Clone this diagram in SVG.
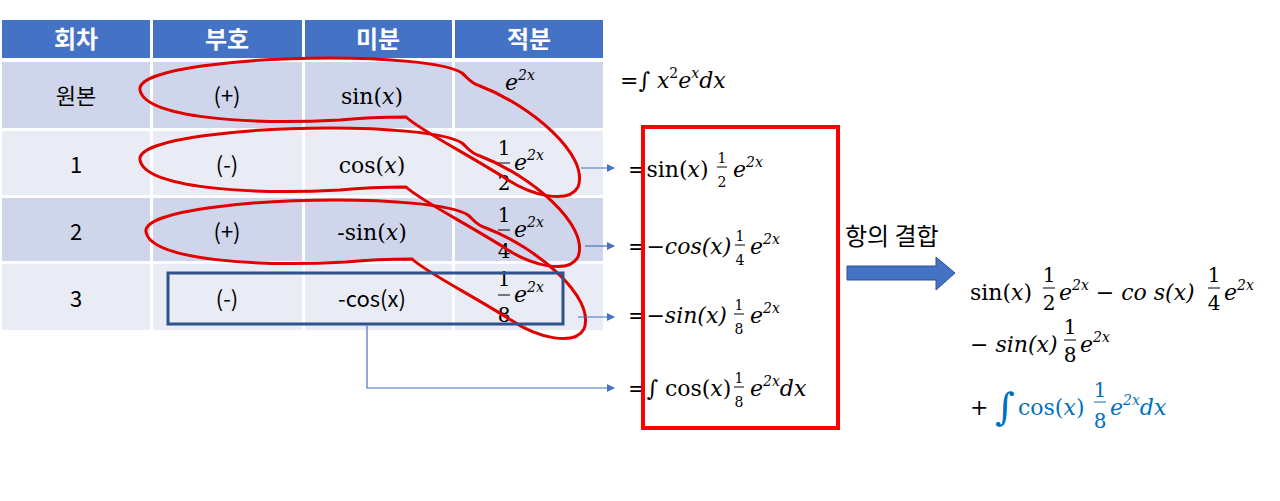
<svg xmlns="http://www.w3.org/2000/svg" width="1280" height="501" viewBox="0 0 1280 501">
<style>
.h{fill:#fff;font:bold 24px "Noto Sans CJK KR","Noto Sans",sans-serif;text-anchor:middle}
.c{fill:#000;font:22px "Noto Sans CJK KR","Noto Sans",sans-serif;text-anchor:middle}
.m{font-family:"DejaVu Serif","Liberation Serif",serif;font-size:22px;fill:#000}
.i{font-style:italic}
.s{font-size:14px}
.f{font-size:14px;text-anchor:middle}
.rf{font-size:20px;text-anchor:middle}
.bl{fill:#0070C0}
.red{fill:none;stroke:#E00000;stroke-width:3}
.ar{stroke:#4472C4;stroke-width:1.2;fill:none;marker-end:url(#a)}
</style>
<defs><marker id="a" markerWidth="8" markerHeight="8" refX="7" refY="4" orient="auto" markerUnits="userSpaceOnUse"><path d="M0,0L8,4L0,8z" fill="#4472C4"/></marker></defs>
<rect width="1280" height="501" fill="#fff"/>
<g id="table">
<rect x="2" y="20" width="148" height="38" fill="#4472C4"/><rect x="153" y="20" width="149" height="38" fill="#4472C4"/><rect x="305" y="20" width="147" height="38" fill="#4472C4"/><rect x="455" y="20" width="148" height="38" fill="#4472C4"/>
<text class="h" x="76" y="48">회차</text><text class="h" x="227" y="48">부호</text><text class="h" x="378" y="48">미분</text><text class="h" x="529" y="48">적분</text>
<g fill="#CFD5EA"><rect x="2" y="62" width="148" height="66"/><rect x="153" y="62" width="149" height="66"/><rect x="305" y="62" width="147" height="66"/><rect x="455" y="62" width="148" height="66"/>
<rect x="2" y="198" width="148" height="63"/><rect x="153" y="198" width="149" height="63"/><rect x="305" y="198" width="147" height="63"/><rect x="455" y="198" width="148" height="63"/></g>
<g fill="#E9EBF5"><rect x="2" y="131" width="148" height="64"/><rect x="153" y="131" width="149" height="64"/><rect x="305" y="131" width="147" height="64"/><rect x="455" y="131" width="148" height="64"/>
<rect x="2" y="264" width="148" height="66"/><rect x="153" y="264" width="149" height="66"/><rect x="305" y="264" width="147" height="66"/><rect x="455" y="264" width="148" height="66"/></g>
<text class="c" x="76" y="104">원본</text><text class="c" x="76" y="173">1</text><text class="c" x="76" y="240">2</text><text class="c" x="76" y="307">3</text>
<text class="c" x="227" y="104">(+)</text><text class="c" x="227" y="173">(-)</text><text class="c" x="227" y="240">(+)</text><text class="c" x="227" y="307">(-)</text>
<text class="m" x="372" y="104" text-anchor="middle">sin(<tspan class="i">x</tspan>)</text>
<text class="m" x="372" y="173" text-anchor="middle">cos(<tspan class="i">x</tspan>)</text>
<text class="m" x="372" y="240" text-anchor="middle">-sin(<tspan class="i">x</tspan>)</text>
<text class="c" x="372" y="307">-cos(x)</text>
<text class="m i" x="505" y="90">e<tspan class="s" dy="-10">2x</tspan></text>
<g class="m"><text class="rf" x="504" y="155">1</text><text class="rf" x="504" y="190">2</text><line x1="498" y1="163" x2="510" y2="163" stroke="#000"/><text class="i" x="514" y="170">e<tspan class="s" dy="-10">2x</tspan></text>
<text class="rf" x="504" y="222">1</text><text class="rf" x="504" y="258">4</text><line x1="498" y1="230" x2="510" y2="230" stroke="#000"/><text class="i" x="514" y="237">e<tspan class="s" dy="-10">2x</tspan></text>
<text class="rf" x="504" y="286">1</text><text class="rf" x="504" y="322">8</text><line x1="498" y1="295" x2="510" y2="295" stroke="#000"/><text class="i" x="514" y="302">e<tspan class="s" dy="-10">2x</tspan></text></g>
</g>
<g id="ovals">
<path class="red" d="M340,120 C250,125 145,118 140,90 C136,68 250,58 330,58 C380,58 445,62 462,73 C468,78 470,83 480,86 C530,105 590,155 578,187 C568,205 530,195 505,178 C460,150 420,130 406,117 C390,117 360,118 340,120 Z"/>
<path class="red" transform="translate(0,70)" d="M340,120 C250,125 145,118 140,90 C136,68 250,58 330,58 C380,58 445,62 462,73 C468,78 470,83 480,86 C530,105 590,155 578,187 C568,205 530,195 505,178 C460,150 420,130 406,117 C390,117 360,118 340,120 Z"/>
<path class="red" transform="translate(6,142)" d="M340,120 C250,125 145,118 140,90 C136,68 250,58 330,58 C380,58 445,62 462,73 C468,78 470,83 480,86 C530,105 590,155 578,187 C568,205 530,195 505,178 C460,150 420,130 406,117 C390,117 360,118 340,120 Z"/>
<rect x="168" y="273" width="395" height="51" fill="none" stroke="#2F528F" stroke-width="3"/>
</g>
<g id="connectors">
<path class="ar" d="M581,168H614"/><path class="ar" d="M585,246H614"/><path class="ar" d="M578,317H614"/><path class="ar" d="M367,326V388H614"/>
<path d="M847,266H936V257L955,273L936,290V280H847Z" fill="#4472C4" stroke="#2F528F"/>
</g>
<g id="formulas" class="m">
<text x="620" y="88">=∫ <tspan class="i">x</tspan><tspan class="s" dy="-10">2</tspan><tspan class="i" dy="10">e</tspan><tspan class="s i" dy="-10">x</tspan><tspan class="i" dy="10">dx</tspan></text>
<text x="628" y="177">=sin(<tspan class="i">x</tspan>)</text><text class="f" x="722" y="163">1</text><line x1="717" y1="167" x2="727" y2="167" stroke="#000"/><text class="f" x="722" y="187">2</text><text class="i" x="733" y="177">e<tspan class="s" dy="-10">2x</tspan></text>
<text x="628" y="254">=<tspan class="i">−cos(x)</tspan></text><text class="f" x="740" y="241">1</text><line x1="735" y1="245" x2="745" y2="245" stroke="#000"/><text class="f" x="740" y="265">4</text><text class="i" x="750" y="254">e<tspan class="s" dy="-10">2x</tspan></text>
<text x="628" y="323">=<tspan class="i">−sin(x)</tspan></text><text class="f" x="739" y="310">1</text><line x1="734" y1="314" x2="744" y2="314" stroke="#000"/><text class="f" x="739" y="334">8</text><text class="i" x="750" y="323">e<tspan class="s" dy="-10">2x</tspan></text>
<text x="628" y="396">=∫ cos(<tspan class="i">x</tspan>)</text><text class="f" x="739" y="383">1</text><line x1="734" y1="387" x2="744" y2="387" stroke="#000"/><text class="f" x="739" y="407">8</text><text class="i" x="750" y="396">e<tspan class="s" dy="-10">2x</tspan><tspan dy="10">dx</tspan></text>
<rect x="643" y="127" width="195" height="301" fill="none" stroke="#FF0000" stroke-width="4"/>
<text x="845" y="245" style="font:24px 'Noto Sans CJK KR',sans-serif">항의 결합</text>
<text x="970" y="300">sin(<tspan class="i">x</tspan>)</text>
<text class="rf" x="1049" y="282">1</text><line x1="1043" y1="288" x2="1055" y2="288" stroke="#000"/><text class="rf" x="1049" y="310">2</text><text class="i" x="1059" y="300">e<tspan class="s" dy="-10">2x</tspan><tspan dy="10"> − co s(x)</tspan></text>
<text class="rf" x="1214" y="282">1</text><line x1="1208" y1="288" x2="1220" y2="288" stroke="#000"/><text class="rf" x="1214" y="310">4</text><text class="i" x="1224" y="300">e<tspan class="s" dy="-10">2x</tspan></text>
<text x="970" y="352">− <tspan class="i">sin(x)</tspan></text><text class="rf" x="1070" y="334">1</text><line x1="1064" y1="340" x2="1076" y2="340" stroke="#000"/><text class="rf" x="1070" y="362">8</text><text class="i" x="1080" y="352">e<tspan class="s" dy="-10">2x</tspan></text>
<g class="bl"><text x="970" y="415" fill="#000">+</text><text x="995" y="420" style="font-size:38px">∫</text><text x="1018" y="415">cos(<tspan class="i">x</tspan>)</text><text class="rf" x="1100" y="397">1</text><line x1="1094" y1="402" x2="1106" y2="402" stroke="#0070C0"/><text class="rf" x="1100" y="428">8</text><text class="i" x="1110" y="415">e<tspan class="s" dy="-10">2x</tspan><tspan dy="10">dx</tspan></text></g>
</g>
</svg>
